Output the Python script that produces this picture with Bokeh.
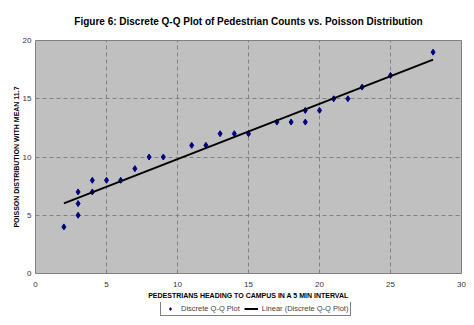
import numpy as np
from bokeh.plotting import figure
from bokeh.layouts import column
from bokeh.models import Legend, LegendItem, Range1d, FixedTicker
from bokeh.embed import file_html
from bokeh.resources import INLINE

# Data
pedestrians = [2, 3, 3, 3, 4, 4, 5, 6, 7, 8, 9, 11, 12, 13, 14, 15, 17, 18, 19, 19, 20, 21, 22, 23, 25, 28]
poisson_q = [4, 5, 6, 7, 7, 8, 8, 8, 9, 10, 10, 11, 11, 12, 12, 12, 13, 13, 13, 14, 14, 15, 15, 16, 17, 19]
x_ticks = [0, 5, 10, 15, 20, 25, 30]
y_ticks = [0, 5, 10, 15, 20]

# Linear trend line (least squares fit of the data)
slope, intercept = np.polyfit(pedestrians, poisson_q, 1)
trend_x = [min(pedestrians), max(pedestrians)]
trend_y = [slope * v + intercept for v in trend_x]

FONT = "Liberation Sans"
MARK = "#000080"

p = figure(width=474, height=302, output_backend="svg", toolbar_location=None,
           x_range=Range1d(0, 30), y_range=Range1d(0, 20),
           min_border_left=35, min_border_right=13, min_border_top=40, min_border_bottom=29)

p.title.text = "Figure 6: Discrete Q-Q Plot of Pedestrian Counts vs. Poisson Distribution"
p.title.align = "center"
p.title.text_font = FONT
p.title.text_font_size = "10px"
p.title.text_font_style = "bold"
p.title.text_color = "#000000"
p.title.standoff = 27

p.background_fill_color = "#C0C0C0"
p.border_fill_color = "#FFFFFF"
p.outline_line_color = "#808080"
p.outline_line_width = 1

for g in (p.xgrid, p.ygrid):
    g.grid_line_color = "#808080"
    g.grid_line_dash = "4 3"
    g.grid_line_width = 1

p.xaxis.ticker = FixedTicker(ticks=x_ticks)
p.yaxis.ticker = FixedTicker(ticks=y_ticks)
for ax in (p.xaxis, p.yaxis):
    ax.axis_line_color = None
    ax.major_tick_line_color = None
    ax.minor_tick_line_color = None
    ax.major_tick_out = 0
    ax.major_tick_in = 0
    ax.minor_tick_out = 0
    ax.major_label_text_font = FONT
    ax.major_label_text_font_size = "8px"
    ax.major_label_text_color = "#333333"
    ax.axis_label_text_font = FONT
    ax.axis_label_text_font_size = "7px"
    ax.axis_label_text_font_style = "bold"
    ax.axis_label_text_color = "#000000"

p.xaxis.axis_label = "PEDESTRIANS HEADING TO CAMPUS IN A 5 MIN INTERVAL"
p.yaxis.axis_label = "POISSON DISTRIBUTION WITH MEAN 11.7"
p.xaxis.major_label_standoff = 8
p.xaxis.axis_label_standoff = 2
p.yaxis.major_label_standoff = 4
p.yaxis.axis_label_standoff = 0

p.scatter(pedestrians, poisson_q, marker="diamond", size=6,
          fill_color=MARK, line_color=MARK)
p.line(trend_x, trend_y, line_color="#000000", line_width=2)

# Legend strip below the chart (its glyphs reuse the data, which lie outside this strip's ranges)
lf = figure(width=474, height=23, output_backend="svg", toolbar_location=None,
            x_range=Range1d(0, 1), y_range=Range1d(0, 1),
            x_axis_location=None, y_axis_location=None,
            min_border_left=0, min_border_right=0, min_border_top=0, min_border_bottom=0)
lf.grid.visible = False
lf.outline_line_color = None
lf.background_fill_color = "#FFFFFF"
lf.border_fill_color = "#FFFFFF"
lpts = lf.scatter(pedestrians, poisson_q, marker="diamond", size=6, fill_color=MARK, line_color=MARK)
lln = lf.line(trend_x, trend_y, line_color="#000000", line_width=2)

legend = Legend(items=[LegendItem(label="Discrete Q-Q Plot", renderers=[lpts]),
                       LegendItem(label="Linear (Discrete Q-Q Plot)", renderers=[lln])],
                orientation="horizontal", location=(125, 9),
                label_text_font=FONT, label_text_font_size="7.5px",
                border_line_color="#000000", border_line_width=1,
                background_fill_color="#FFFFFF", background_fill_alpha=1.0,
                glyph_width=14, glyph_height=7, label_height=7,
                padding=2, spacing=4, margin=0,
                label_standoff=4)
lf.add_layout(legend, "center")

layout = column(p, lf, spacing=0)
open("out.html", "w").write(file_html(layout, INLINE))
